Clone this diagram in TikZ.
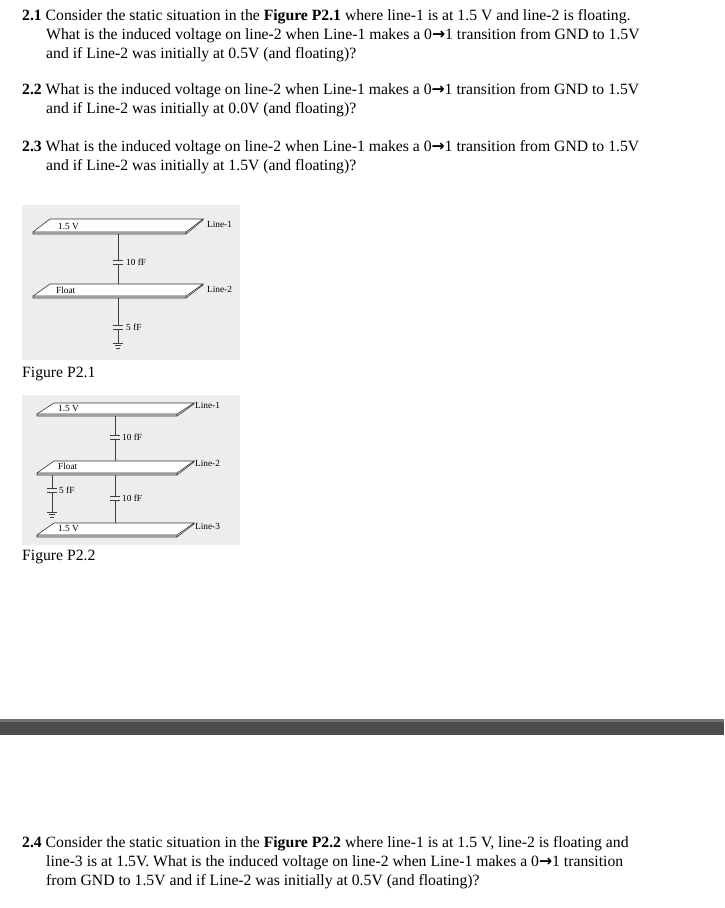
\documentclass[tikz,border=0pt]{standalone}
\usepackage{fontspec}
\setmainfont{Liberation Serif}
\newfontfamily\arrfont{DejaVu Sans}
\newcommand{\arr}{{\arrfont\bfseries →}}
\begin{document}
\begin{tikzpicture}[x=1pt,y=-1pt,
  txt/.style={anchor=base west,inner sep=0pt,font=\fontsize{15.7}{19}\selectfont},
  sm/.style={anchor=base west,inner sep=0pt,font=\fontsize{9.3}{10}\selectfont},
  wire/.style={line width=0.8pt,black!75}]
\useasboundingbox (0,0) rectangle (724,908);
\newcommand{\myplate}[5]{%
  \fill[white] (#2,#5-2) -- (#2+17,#4) -- (#3+17,#4) -- (#3,#5-2) -- cycle;
  \fill[white!85!black] (#2,#5-2) rectangle (#3,#5);
  \draw[line width=0.6pt,black!80] (#2,#5) -- (#2,#5-2) -- (#2+17,#4) -- (#3+17,#4) -- (#3,#5-2) -- (#3,#5) -- cycle;
  \draw[line width=0.6pt,black!80] (#2,#5-2) -- (#3,#5-2) (#3,#5) -- (#3+17,#4+1) -- (#3+17,#4);
  \coordinate (#1) at ({(#2+#3)/2},{(#4+#5)/2});}
\newcommand{\mycap}[2]{%
  \fill[white!93!black] (#1-6,#2-2.5) rectangle (#1+6,#2+2.5);
  \draw[wire] (#1-5,#2-2) -- (#1+5,#2-2) (#1-5,#2+2) -- (#1+5,#2+2);}
\newcommand{\mygnd}[2]{%
  \draw[wire] (#1-5,#2) -- (#1+5,#2) (#1-3.3,#2+2.5) -- (#1+3.3,#2+2.5) (#1-1.6,#2+5) -- (#1+1.6,#2+5);}
\node[txt] (t1) at (22,20) {\textbf{2.1} Consider the static situation in the \textbf{Figure P2.1} where line-1 is at 1.5 V and line-2 is floating.};
\node[txt] (t2) at (46,39) {What is the induced voltage on line-2 when Line-1 makes a 0\arr1 transition from GND to 1.5V};
\node[txt] (t3) at (46,58) {and if Line-2 was initially at 0.5V (and floating)?};
\node[txt] (t4) at (22,94) {\textbf{2.2} What is the induced voltage on line-2 when Line-1 makes a 0\arr1 transition from GND to 1.5V};
\node[txt] (t5) at (46,113) {and if Line-2 was initially at 0.0V (and floating)?};
\node[txt] (t6) at (22,151) {\textbf{2.3} What is the induced voltage on line-2 when Line-1 makes a 0\arr1 transition from GND to 1.5V};
\node[txt] (t7) at (46,170) {and if Line-2 was initially at 1.5V (and floating)?};
% Figure 1
\fill[white!93!black] (22,205) rectangle (240,360);
\draw[wire] (118,234) -- (118,290);
\draw[wire] (118,298) -- (118,343);
\myplate{p11}{33}{186}{219}{234}
\myplate{p12}{33}{186}{284}{298}
\mycap{118}{262}\mycap{118}{327}\mygnd{118}{343}
\node[sm] (a1) at (58,229) {1.5 V};
\node[sm] (a2) at (56,293) {Float};
\node[sm] (a3) at (207,227) {Line-1};
\node[sm] (a4) at (207,292) {Line-2};
\node[sm] (a5) at (126,265) {10 fF};
\node[sm] (a6) at (126,330) {5 fF};
\node[txt] (c1) at (22,377) {Figure P2.1};
% Figure 2
\fill[white!93!black] (22,395) rectangle (240,545);
\draw[wire] (115,416) -- (115,467);
\draw[wire] (115,475) -- (115,529);
\draw[wire] (52,475) -- (52,512);
\myplate{p21}{37}{177}{403}{416}
\myplate{p22}{37}{177}{461}{475}
\myplate{p23}{37}{177}{523}{537}
\mycap{115}{437}\mycap{115}{498}\mycap{52}{490}\mygnd{52}{512}
\node[sm] (b1) at (58,411) {1.5 V};
\node[sm] (b2) at (58,469) {Float};
\node[sm] (b3) at (58,531) {1.5 V};
\node[sm] (b4) at (195,408) {Line-1};
\node[sm] (b5) at (195,466) {Line-2};
\node[sm] (b6) at (195,529) {Line-3};
\node[sm] (b7) at (122,440) {10 fF};
\node[sm] (b8) at (122,501) {10 fF};
\node[sm] (b9) at (59,493) {5 fF};
\node[txt] (c2) at (22,560) {Figure P2.2};
\fill[black!70] (0,719) rectangle (724,735);
\fill[black!55] (0,719) rectangle (724,722);
\node[txt] (t8) at (22,847) {\textbf{2.4} Consider the static situation in the \textbf{Figure P2.2} where line-1 is at 1.5 V, line-2 is floating and};
\node[txt] (t9) at (46,866) {line-3 is at 1.5V. What is the induced voltage on line-2 when Line-1 makes a 0\arr1 transition};
\node[txt] (t10) at (46,885) {from GND to 1.5V and if Line-2 was initially at 0.5V (and floating)?};
\end{tikzpicture}
\end{document}
